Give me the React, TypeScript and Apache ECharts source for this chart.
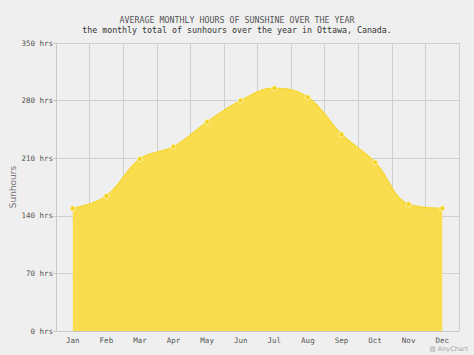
import React, { useEffect, useRef } from "react";
import * as echarts from "echarts";

const months = ["Jan", "Feb", "Mar", "Apr", "May", "Jun", "Jul", "Aug", "Sep", "Oct", "Nov", "Dec"];
const sunhours = [149, 164, 209, 224, 254, 280, 295, 284, 239, 205, 154, 149];
const yTicks = { min: 0, max: 350, interval: 70 };

export default function App() {
  const ref = useRef<HTMLDivElement>(null);
  useEffect(() => {
    if (!ref.current) return;
    const chart = echarts.init(ref.current, undefined, { renderer: "svg" });
    const mono = "'DejaVu Sans Mono', 'Liberation Mono', monospace";
    chart.setOption({
      animation: false,
      backgroundColor: "#efefef",
      title: [
        {
          text: "AVERAGE MONTHLY HOURS OF SUNSHINE OVER THE YEAR",
          left: "center",
          top: 11,
          textStyle: { fontFamily: mono, fontSize: 8.3, fontWeight: "normal", color: "#555" },
        },
        {
          text: "the monthly total of sunhours over the year in Ottawa, Canada.",
          left: "center",
          top: 21,
          textStyle: { fontFamily: mono, fontSize: 8.3, fontWeight: "normal", color: "#333" },
        },
      ],
      grid: { left: 56, right: 15, top: 43, bottom: 24, containLabel: false, outerBoundsMode: "none" },
      xAxis: {
        type: "category",
        data: months,
        boundaryGap: true,
        axisLine: { show: true, lineStyle: { color: "#c8c8c8" } },
        axisTick: { show: false },
        splitLine: { show: true, lineStyle: { color: "#cfcfcf" } },
        axisLabel: { fontFamily: mono, fontSize: 7.5, color: "#545454", margin: 5 },
      },
      yAxis: {
        type: "value",
        min: yTicks.min,
        max: yTicks.max,
        interval: yTicks.interval,
        axisLine: { show: true, lineStyle: { color: "#c8c8c8" } },
        axisTick: { show: true, length: 3, lineStyle: { color: "#c8c8c8" } },
        splitLine: { show: true, lineStyle: { color: "#cfcfcf" } },
        axisLabel: { fontFamily: mono, fontSize: 7.5, color: "#545454", formatter: "{value} hrs", margin: 3 },
      },
      series: [
        {
          type: "line",
          data: sunhours,
          smooth: 0.4,
          symbol: "circle",
          symbolSize: 5,
          lineStyle: { color: "#f6d838", width: 1.5 },
          itemStyle: { color: "#f2d21e", borderColor: "#fff6b8", borderWidth: 1 },
          areaStyle: { color: "#f9dd4e", opacity: 1 },
        },
      ],
      graphic: [
        {
          type: "text",
          x: 13,
          y: 187,
          rotation: Math.PI / 2,
          style: {
            text: "Sunhours",
            align: "center",
            verticalAlign: "middle",
            fontFamily: "'DejaVu Sans', sans-serif",
            fontSize: 9,
            fill: "#777",
          },
        },
        {
          type: "text",
          right: 6,
          bottom: 3,
          style: { text: "▨ AnyChart", fontFamily: "'DejaVu Sans', sans-serif", fontSize: 6.5, fill: "#aaa" },
        },
      ],
    });
    return () => chart.dispose();
  }, []);
  return <div ref={ref} style={{ position: "absolute", left: 0, top: 0, width: 474, height: 355 }} />;
}
